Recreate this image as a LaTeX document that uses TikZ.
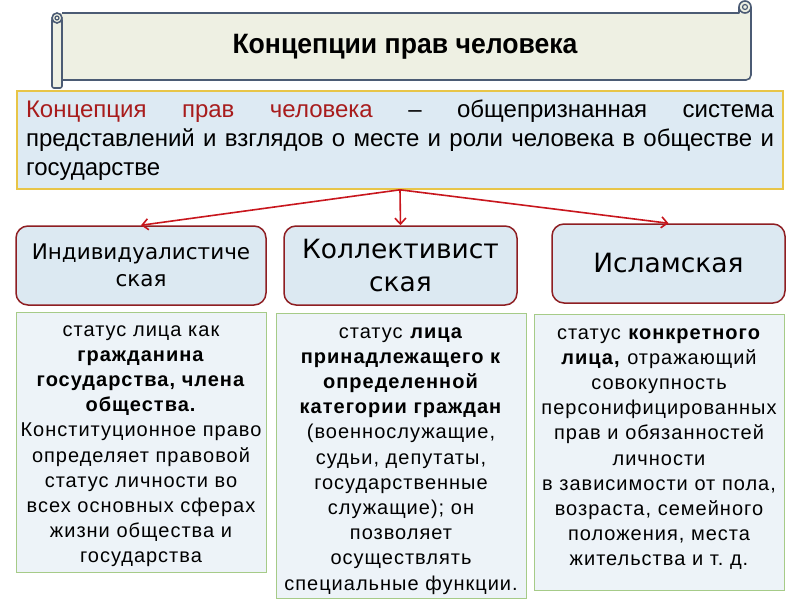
\documentclass[tikz,border=0pt]{standalone}
\usepackage{fontspec}
\setmainfont{Liberation Sans}
\newfontfamily\djv{DejaVu Sans}
\newfontfamily\descfont[LetterSpace=5]{Liberation Sans}
\newfontfamily\titlefont[FakeStretch=0.95]{Liberation Sans}
\usetikzlibrary{arrows.meta}
\definecolor{scrollfill}{HTML}{EEF0E3}
\definecolor{scrollline}{HTML}{4B5B74}
\definecolor{deffill}{HTML}{DDEAF3}
\definecolor{defline}{HTML}{E8C547}
\definecolor{defred}{HTML}{A81C1C}
\definecolor{catline}{HTML}{8E1E22}
\definecolor{catfill}{HTML}{DCE9F2}
\definecolor{descline}{HTML}{A6CB88}
\definecolor{descfill}{HTML}{EDF3F8}
\definecolor{arrred}{HTML}{C8161D}
\tikzset{
  scrollpart/.style={fill=scrollfill, draw=scrollline, line width=1.6pt},
  defbox/.style={draw=defline, fill=deffill, line width=1.6pt, text width=748pt,
    inner xsep=9pt, inner ysep=0pt, minimum height=98pt, align=justify,
    font=\fontsize{24}{29}\selectfont},
  catbox/.style={draw=catline, fill=catfill, rounded corners=12pt, line width=1.5pt,
    minimum height=79pt, align=center, inner sep=0pt},
  descbox/.style={draw=descline, fill=descfill, line width=1pt, minimum width=250pt, inner sep=0pt},
  desctext/.style={text width=250pt, align=center, inner sep=0pt, anchor=base,
    font=\descfont\fontsize{20}{25.2}\selectfont},
  arr/.style={draw=arrred, line width=1.6pt, -{Straight Barb[length=6pt,width=11pt]}}
}
\begin{document}
\begin{tikzpicture}[x=1pt,y=-1pt]
\useasboundingbox[fill=white] (0,0) rectangle (800,600);
% scroll title
\fill[scrollfill] (60,13) rectangle (751,80);
\draw[scrollline, line width=1.6pt, line join=round] (62,13) -- (739,13) -- (739,7);
\draw[scrollline, line width=1.6pt] (751,7) -- (751,75) arc (0:90:5) -- (62,80);
\draw[scrollpart] (745,7) circle (6);
\draw[scrollline, line width=1.2pt] (745,7) circle (2.5);
\draw[scrollpart, rounded corners=2pt] (52,18) rectangle (62,88);
\draw[scrollpart] (57,18) circle (5);
\draw[scrollline, line width=1.2pt] (57,18) circle (2);
\node[font=\titlefont\bfseries\fontsize{28}{30}\selectfont] (title) at (405,47) {Концепции прав человека};
% definition
\node[defbox] (def) at (400,140) {\textcolor{defred}{Концепция прав человека} – общепризнанная система\linebreak представлений и взглядов о месте и роли человека в обществе и\linebreak государстве};
% categories
\node[catbox, minimum width=250pt, font=\djv\fontsize{21.5}{27}\selectfont] (cat1) at (141,265.5) {\raisebox{0pt}{}Индивидуалистиче\\ская};
\node[catbox, minimum width=233pt, font=\djv\fontsize{26.5}{33}\selectfont] (cat2) at (400.5,265.5) {Коллективист\\ская};
\node[catbox, minimum width=233pt, font=\djv\fontsize{26.5}{33}\selectfont] (cat3) at (668.5,263.5) {Исламская};
% arrows
\draw[arr] (def.south) -- (cat1.north);
\draw[arr] (def.south) -- (cat2.north);
\draw[arr] (def.south) -- (cat3.north);
% descriptions
\node[descbox, minimum height=260pt] (d1) at (141,442) {};
\node[descbox, minimum height=285pt] (d2) at (401,455.5) {};
\node[descbox, minimum height=276pt] (d3) at (659,452) {};
\node[desctext] (t1) at (141,336) {статус лица как\\
\textbf{гражданина}\\
\textbf{государства, члена}\\
\textbf{общества.}\\
Конституционное право\\
определяет правовой\\
статус личности во\\
всех основных сферах\\
жизни общества и\\
государства};
\node[desctext] (t2) at (401,338) {статус \textbf{лица}\\
\textbf{принадлежащего к}\\
\textbf{определенной}\\
\textbf{категории граждан}\\
(военнослужащие,\\
судьи, депутаты,\\
государственные\\
служащие); он\\
позволяет\\
осуществлять\\
специальные функции.};
\node[desctext] (t3) at (659,339) {статус \textbf{конкретного}\\
\textbf{лица,} отражающий\\
совокупность\\
персонифицированных\\
прав и обязанностей\\
личности\\
в зависимости от пола,\\
возраста, семейного\\
положения, места\\
жительства и т.~д.};
\end{tikzpicture}
\end{document}
